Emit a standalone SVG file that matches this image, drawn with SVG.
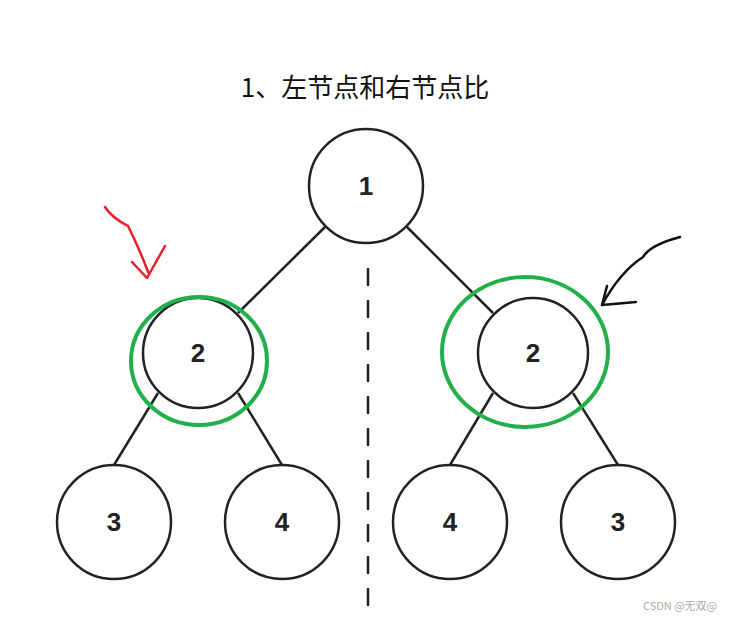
<svg xmlns="http://www.w3.org/2000/svg" width="732" height="622" viewBox="0 0 732 622">
<style>
.n circle{fill:#fff;stroke:#222;stroke-width:2.5}
.n text{font-family:"Liberation Sans",Arial,sans-serif;font-weight:bold;font-size:26px;fill:#222;text-anchor:middle;dominant-baseline:central}
.e line{stroke:#222;stroke-width:2.5}
.g{fill:none;stroke:#22b04a;stroke-width:4}
</style>
<rect width="732" height="622" fill="#fff"/>
<text x="365" y="97" font-family="'Noto Sans CJK SC',sans-serif" font-size="26" text-anchor="middle" fill="#111">1、左节点和右节点比</text>
<g id="connectors" class="e">
<line x1="325" y1="227" x2="238" y2="313"/>
<line x1="407" y1="227" x2="493" y2="313"/>
<line x1="158" y1="393" x2="114" y2="465"/>
<line x1="238" y1="393" x2="282" y2="465"/>
<line x1="493" y1="393" x2="450" y2="465"/>
<line x1="573" y1="393" x2="618" y2="465"/>
<line x1="368" y1="268" x2="368" y2="612" stroke-dasharray="18,14" stroke-width="4"/>
</g>
<g id="n1" class="n"><circle cx="366" cy="186" r="57"/><text x="366" y="186">1</text></g>
<g id="n2l" class="n"><circle cx="198" cy="353" r="55"/><text x="198" y="353">2</text></g>
<g id="n2r" class="n"><circle cx="533" cy="353" r="55"/><text x="533" y="353">2</text></g>
<g id="n3l" class="n"><circle cx="114" cy="522" r="57"/><text x="114" y="522">3</text></g>
<g id="n4l" class="n"><circle cx="282" cy="522" r="57"/><text x="282" y="522">4</text></g>
<g id="n4r" class="n"><circle cx="450" cy="522" r="57"/><text x="450" y="522">4</text></g>
<g id="n3r" class="n"><circle cx="618" cy="522" r="57"/><text x="618" y="522">3</text></g>
<ellipse class="g" cx="199" cy="361" rx="68" ry="64"/>
<ellipse class="g" cx="525" cy="352" rx="83" ry="75"/>
<path d="M105,207 Q112,218 128,226 Q140,250 148,272 M132,262 L147,278 L165,246" fill="none" stroke="#e8202a" stroke-width="2.5" stroke-linejoin="round" stroke-linecap="round"/>
<path d="M680,237 Q650,245 643,257 Q620,272 602,305 M607,286 L602,305 L636,302" fill="none" stroke="#111" stroke-width="2.5" stroke-linejoin="round" stroke-linecap="round"/>
<text x="680" y="610" font-family="'Noto Sans CJK SC',sans-serif" font-size="11" text-anchor="middle" fill="#aaa">CSDN @无双@</text>
</svg>
